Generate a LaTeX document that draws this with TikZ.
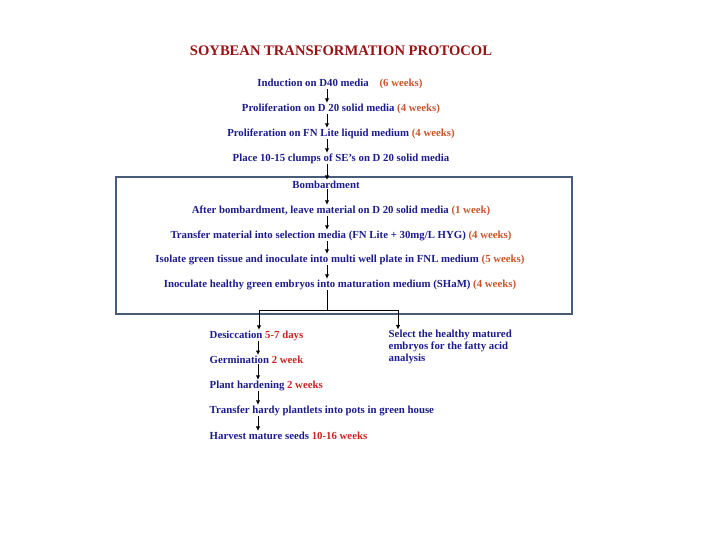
\documentclass[tikz,border=0pt]{standalone}
\usepackage{fontspec}
\setmainfont{Liberation Serif}
\usetikzlibrary{arrows.meta}
\definecolor{navy}{RGB}{28,28,140}
\definecolor{orng}{RGB}{200,85,45}
\definecolor{redd}{RGB}{205,35,35}
\definecolor{ttl}{RGB}{150,20,20}
\definecolor{frame}{RGB}{72,92,122}
\tikzset{
  txt/.style={font=\fontsize{10.8}{12}\selectfont\bfseries, text=navy, inner sep=0.5pt, yshift=-1.5pt},
  flow/.style={draw=black, line width=1pt, -{Latex[length=4.5pt,width=4.5pt]}},
  plain/.style={draw=black, line width=1pt}
}
\newcommand{\tm}[1]{\textcolor{orng}{#1}}
\newcommand{\tr}[1]{\textcolor{redd}{#1}}
\begin{document}
\begin{tikzpicture}[x=1pt,y=-1pt]
\useasboundingbox (0,0) rectangle (720,540);
\node[font=\fontsize{14.6}{16}\selectfont\bfseries, text=ttl] (title) at (341,51) {SOYBEAN TRANSFORMATION PROTOCOL};
\node[txt] (s1) at (340,82) {Induction on D40 media\quad\tm{(6 weeks)}};
\node[txt] (s2) at (341,107) {Proliferation on D 20 solid media \tm{(4 weeks)}};
\node[txt] (s3) at (341,132) {Proliferation on FN Lite liquid medium \tm{(4 weeks)}};
\node[txt] (s4) at (341,157) {Place 10-15 clumps of SE's on D 20 solid media};
\node[txt] (s5) at (326,183) {Bombardment};
\node[txt] (s6) at (341,209) {After bombardment, leave material on D 20 solid media \tm{(1 week)}};
\node[txt] (s7) at (341,234) {Transfer material into selection media (FN Lite + 30mg/L HYG) \tm{(4 weeks)}};
\node[txt] (s8) at (340,258) {Isolate green tissue and inoculate into multi well plate in FNL medium \tm{(5 weeks)}};
\node[txt] (s9) at (340,283) {Inoculate healthy green embryos into maturation medium (SHaM) \tm{(4 weeks)}};
\draw[frame, line width=2.5pt] (116,177) rectangle (572,314);
\foreach \a/\b in {s1/s2,s2/s3,s3/s4,s4/s5,s5/s6,s6/s7,s7/s8,s8/s9}
  \draw[flow] (\a.south -| 327,0) -- (\b.north -| 327,0);
\coordinate (jn) at (327,310);
\coordinate (jl) at (259,310);
\coordinate (jr) at (398,310);
\node[txt, anchor=west] (l1) at (209,334) {Desiccation \tr{5-7 days}};
\node[txt, anchor=west] (l2) at (209,358) {Germination \tr{2 week}};
\node[txt, anchor=west] (l3) at (209,384) {Plant hardening \tr{2 weeks}};
\node[txt, anchor=west] (l4) at (209,409) {Transfer hardy plantlets into pots in green house};
\node[txt, anchor=west] (l5) at (209,434) {Harvest mature seeds \tr{10-16 weeks}};
\node[txt, anchor=north west, align=left, font=\fontsize{10.8}{12}\selectfont\bfseries] (r1) at (388,328) {Select the healthy matured\\embryos for the fatty acid\\analysis};
\draw[plain] (s9.south -| jn) -- (jn);
\draw[plain] (jl) -- (jr);
\draw[flow] (jl) -- (l1.north -| jl);
\draw[flow] (jr) -- (r1.north -| jr);
\foreach \a/\b in {l1/l2,l2/l3,l3/l4,l4/l5}
  \draw[flow] (\a.south -| 258,0) -- (\b.north -| 258,0);
\end{tikzpicture}
\end{document}
